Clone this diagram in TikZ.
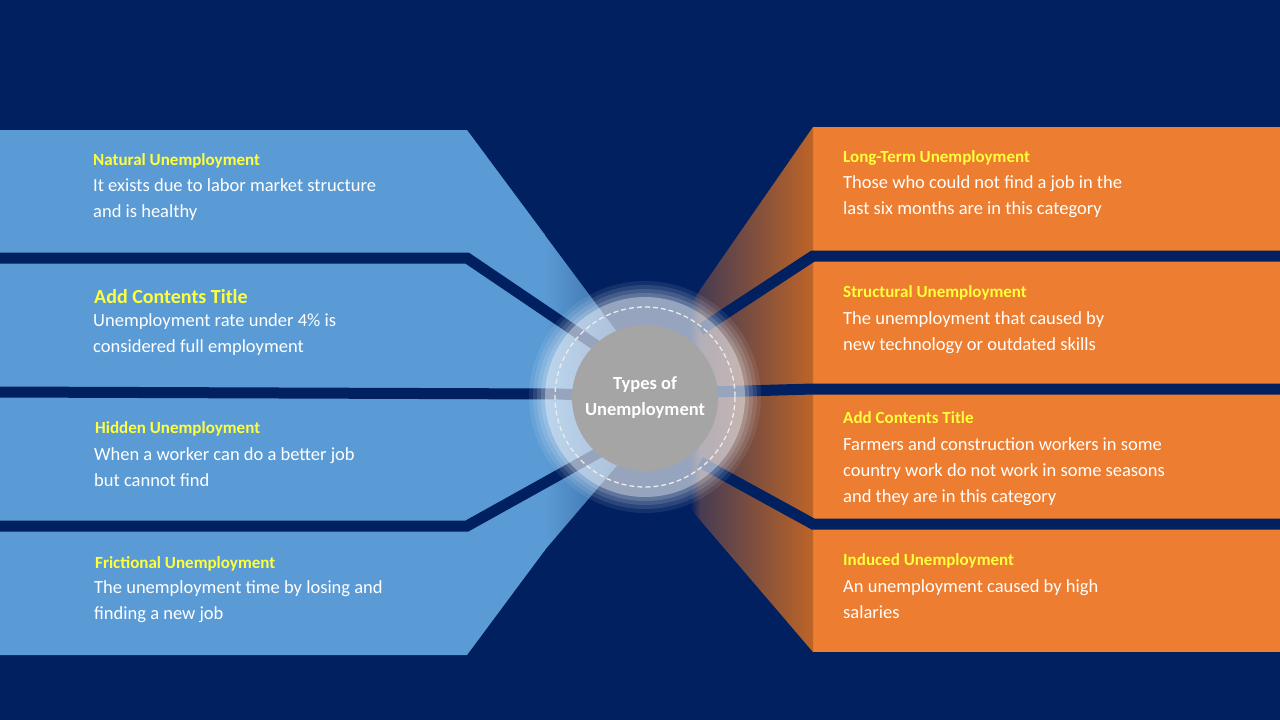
\documentclass[tikz,border=0pt]{standalone}
\usepackage{fontspec}
\setmainfont{Carlito}
\definecolor{bg}{HTML}{002060}
\definecolor{lb}{HTML}{5B9BD5}
\definecolor{og}{HTML}{ED7D31}
\definecolor{ttl}{HTML}{FFFF3C}
\definecolor{gr}{HTML}{A5A5A5}
\begin{document}
\begin{tikzpicture}[x=1pt,y=-1pt,
  ttlstyle/.style={anchor=west,text=ttl,font=\fontsize{17}{20}\selectfont\bfseries,inner sep=0},
  bodystyle/.style={anchor=north west,text=white,font=\fontsize{18.5}{26}\selectfont,align=left,inner sep=0},
  sep/.style={draw=bg,line width=11pt}]
\useasboundingbox (0,0) rectangle (1280,720);
\fill[bg] (0,0) rectangle (1280,720);
% left fan
\fill[lb] (0,130) -- (467,130) -- (545,235) -- (545,550) -- (467,655) -- (0,655) -- cycle;
\shade[left color=lb,right color=bg!40!lb] (544,234) -- (620,336) -- (620,462) -- (544,551) -- cycle;
% right fan
\fill[og] (813,127) rectangle (1280,652);
\shade[left color=bg!70!og,right color=og!80!black] (700,290) -- (813,127) -- (813,652) -- (700,520) -- cycle;
\shade[left color=bg,right color=bg!70!og] (690,305) -- (700,290) -- (700,520) -- (690,508) -- cycle;
% separators
\coordinate (c) at (645,397);
\draw[sep] (0,258) -- (467,258) -- (600,348);
\draw[sep] (0,392) -- (560,394) -- (600,396);
\draw[sep] (0,526) -- (467,526) -- (600,452);
\draw[sep] (1280,256) -- (813,256) -- (700,330);
\draw[sep] (1280,389) -- (813,389) -- (710,392);
\draw[sep] (1280,524) -- (813,524) -- (700,462);
% glow
\foreach \r/\o in {116/0.08,112/0.1,108/0.12,104/0.15}{\fill[white,opacity=\o] (c) circle (\r);}
\fill[white,opacity=0.35] (c) circle (100);
\draw[white!85!gray,dashed,line width=1.3pt,dash pattern=on 5pt off 3pt] (c) circle (90);
\node[circle,fill=gr,minimum size=146pt,inner sep=0,text=white,align=center,
  font=\fontsize{18.5}{26}\selectfont\bfseries] (hub) at (645,398) {Types of\\Unemployment};
% left texts
\node[ttlstyle] (t1) at (93,161) {Natural Unemployment};
\node[bodystyle] (b1) at (93,178) {It exists due to labor market structure\\and is healthy};
\node[ttlstyle,font=\fontsize{20}{24}\selectfont\bfseries] (t2) at (94,297) {Add Contents Title};
\node[bodystyle] (b2) at (93,313) {Unemployment rate under 4\% is\\considered full employment};
\node[ttlstyle] (t3) at (95,429) {Hidden Unemployment};
\node[bodystyle] (b3) at (94,447) {When a worker can do a better job\\but cannot find};
\node[ttlstyle] (t4) at (95,564) {Frictional Unemployment};
\node[bodystyle] (b4) at (94,580) {The unemployment time by losing and\\finding a new job};
% right texts
\node[ttlstyle] (t5) at (843,158) {Long-Term Unemployment};
\node[bodystyle] (b5) at (843,175) {Those who could not find a job in the\\last six months are in this category};
\node[ttlstyle] (t6) at (843,293) {Structural Unemployment};
\node[bodystyle] (b6) at (843,311) {The unemployment that caused by\\new technology or outdated skills};
\node[ttlstyle] (t7) at (843,418) {Add Contents Title};
\node[bodystyle] (b7) at (843,437) {Farmers and construction workers in some\\country work do not work in some seasons\\and they are in this category};
\node[ttlstyle] (t8) at (843,561) {Induced Unemployment};
\node[bodystyle] (b8) at (843,579) {An unemployment caused by high\\salaries};
\end{tikzpicture}
\end{document}
